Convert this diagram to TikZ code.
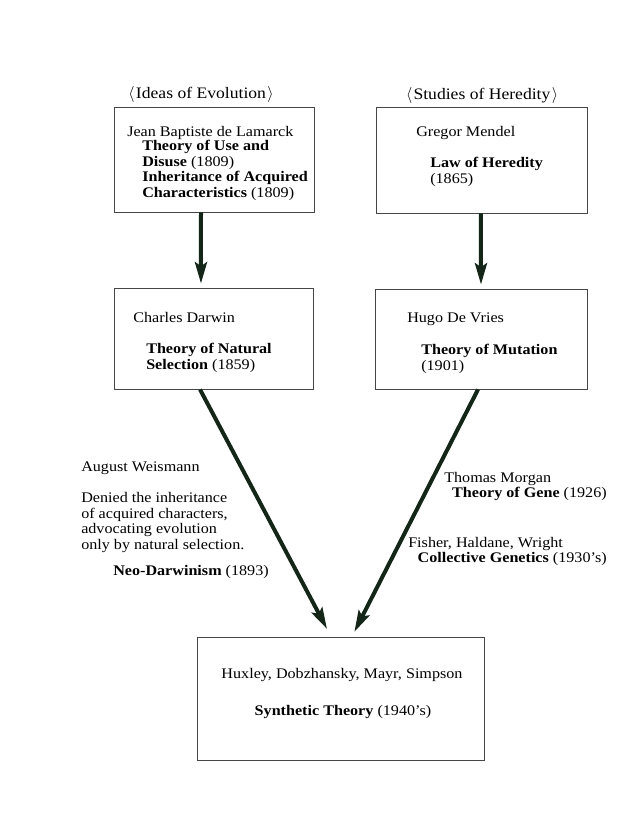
\documentclass[tikz,border=0pt]{standalone}
\usepackage{fontspec}
\setmainfont{Liberation Serif}[FakeStretch=1.1]
\usetikzlibrary{positioning}
\usetikzlibrary{arrows.meta}
\definecolor{darrow}{RGB}{20,38,24}
\definecolor{dline}{RGB}{70,70,70}
\tikzset{txt/.style={anchor=base west, inner sep=0pt, align=left, font=\fontsize{11}{11.6}\selectfont}}

\begin{document}
\spaceskip=5pt plus 1pt
\begin{tikzpicture}[x=0.75pt, y=-0.75pt,
    box/.style={draw=dline, line width=0.7pt, inner sep=0pt},
    title/.style={txt, anchor=base, font=\fontsize{12}{13}\selectfont},
    arrow/.style={-{Stealth[length=16pt, width=9pt, inset=3pt]}, line width=3pt, draw=darrow},
]
\useasboundingbox (0,0) rectangle (638,826);

\node[box, minimum width=150pt, minimum height=78.75pt] (lamarck) at (214,159.5) {};
\node[box, minimum width=158.25pt, minimum height=79.5pt] (mendel) at (481.5,160) {};
\node[box, minimum width=149.25pt, minimum height=75.75pt] (darwin) at (213.5,338.5) {};
\node[box, minimum width=159pt, minimum height=75pt] (devries) at (481,339) {};
\node[box, minimum width=215.25pt, minimum height=92.25pt] (synthetic) at (340.5,698.5) {};

\node[title] (evolution) at (201,98) {$\langle$\kern1pt Ideas of Evolution\kern1pt$\rangle$};
\node[title] (heredity) at (482,99) {$\langle$\kern1pt Studies of Heredity\kern1pt$\rangle$};

\node[txt] (jean) at (127,136) {Jean Baptiste de Lamarck};
\node[txt] (lamarck_work) at (142,197) {\textbf{Theory of Use and}\\\textbf{Disuse} (1809)\\\textbf{Inheritance of Acquired}\\\textbf{Characteristics} (1809)};
\node[txt] (gregor) at (416,136) {Gregor Mendel};
\node[txt] (mendel_work) at (430,183) {\textbf{Law of Heredity}\\(1865)};
\node[txt] (charles) at (133,322) {Charles Darwin};
\node[txt] (darwin_work) at (146,369) {\textbf{Theory of Natural}\\\textbf{Selection} (1859)};
\node[txt] (hugo) at (407,322) {Hugo De Vries};
\node[txt] (devries_work) at (421,370) {\textbf{Theory of Mutation}\\(1901)};

\node[txt] (august) at (81,471) {August Weismann};
\node[txt] (denied) at (81,549) {Denied the inheritance\\of acquired characters,\\advocating evolution\\only by natural selection.};
\node[txt] (neo) at (113,575) {\textbf{Neo-Darwinism} (1893)};
\node[txt] (morgan) at (444,482) {Thomas Morgan};
\node[txt, anchor=base east] (gene) at (607,497) {\textbf{Theory of Gene} (1926)};
\node[txt] (fisher) at (408,547) {Fisher, Haldane, Wright};
\node[txt, anchor=base east] (collective) at (607,562) {\textbf{Collective Genetics} (1930's)};

\node[txt, anchor=base] (huxley) at (342,678) {Huxley, Dobzhansky, Mayr, Simpson};
\node[txt, anchor=base] (synthetic_work) at (343,715) {\textbf{Synthetic Theory} (1940's)};

\draw[arrow, shorten >=3pt] ([xshift=-9.75pt]lamarck.south) -- ([xshift=-9.4pt]darwin.north);
\draw[arrow, shorten >=3pt] ([xshift=-0.4pt]mendel.south) -- (devries.north);
\draw[arrow, shorten >=6.5pt] ([xshift=-10.1pt]darwin.south) -- ([xshift=-7.1pt]synthetic.north);
\draw[arrow, shorten >=4pt] ([xshift=-2.25pt]devries.south) -- ([xshift=8.6pt]synthetic.north);
\end{tikzpicture}
\end{document}
